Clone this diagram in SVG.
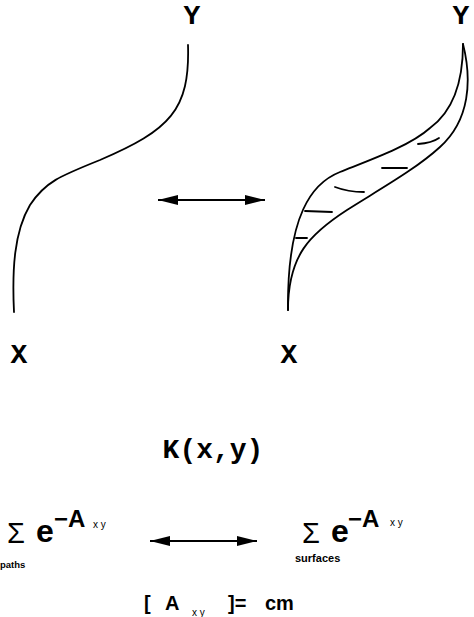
<svg xmlns="http://www.w3.org/2000/svg" width="474" height="617" viewBox="0 0 474 617">
<style>
.c{fill:none;stroke:#000;stroke-width:1.8;stroke-linecap:round}
.m{font-family:"Liberation Mono","Courier New",monospace;font-weight:bold;fill:#000}
.s{font-family:"Liberation Sans",Arial,sans-serif;fill:#000}
.b{font-weight:bold}
.ln{stroke:#000;stroke-width:1.8}
</style>
<defs>
<marker id="ah" viewBox="0 0 20 10" refX="20" refY="5" markerWidth="20" markerHeight="10" markerUnits="userSpaceOnUse" orient="auto-start-reverse">
<path d="M0,0 L20,5 L0,10 Z" fill="#000"/>
</marker>
</defs>
<g id="path-node">
<path class="c" d="M188,45 C190,110 170,130 100,160 C60,176 45,182 30,205 C14,232 12,270 14,312"/>
<text class="m" x="192" y="24" font-size="28" text-anchor="middle">Y</text>
<text class="m" x="19" y="363" font-size="28" text-anchor="middle">X</text>
</g>
<g id="surface-node">
<path class="c" d="M463,44 C463,85 452,112 430,128 C410,146 370,160 340,172 C312,183 287,215 288,310"/>
<path class="c" d="M463,44 C472,80 470,120 440,147 C415,170 375,192 347,210 C310,234 288,255 288,310"/>
<path class="c" d="M418,144 Q432,143 439,138"/>
<path class="c" d="M382,168 L407,168"/>
<path class="c" d="M335,187 Q348,192 364,192"/>
<path class="c" d="M305,211 L332,212"/>
<path class="c" d="M296,238 L307,238"/>
<text class="m" x="461" y="24" font-size="28" text-anchor="middle">Y</text>
<text class="m" x="289" y="363" font-size="28" text-anchor="middle">X</text>
</g>
<g id="kernel-node">
<text class="m" x="213" y="458" font-size="28" text-anchor="middle">K(x,y)</text>
</g>
<g id="paths-sum">
<text class="s" x="7" y="543" font-size="29">Σ</text>
<text class="s b" x="36" y="542" font-size="32">e</text>
<text class="s b" x="54" y="527" font-size="24">−A</text>
<text class="s" x="93" y="528" font-size="10">x y</text>
<text class="s b" x="0" y="568" font-size="9.5">paths</text>
</g>
<g id="surfaces-sum">
<text class="s" x="302" y="543" font-size="29">Σ</text>
<text class="s b" x="331" y="542" font-size="32">e</text>
<text class="s b" x="348" y="527" font-size="24">−A</text>
<text class="s" x="390" y="526" font-size="10">x y</text>
<text class="s b" x="295" y="562" font-size="11">surfaces</text>
</g>
<g id="dimension">
<text class="s b" x="144" y="610" font-size="20">[</text>
<text class="s b" x="165" y="610" font-size="20">A</text>
<text class="s" x="192" y="616" font-size="10">x y</text>
<text class="s b" x="228" y="610" font-size="20">]=</text>
<text class="s b" x="265" y="610" font-size="20">cm</text>
</g>
<g id="connectors">
<line class="ln" x1="158" y1="200" x2="265" y2="200" marker-start="url(#ah)" marker-end="url(#ah)"/>
<line class="ln" x1="150" y1="541" x2="257" y2="541" marker-start="url(#ah)" marker-end="url(#ah)"/>
</g>
</svg>
